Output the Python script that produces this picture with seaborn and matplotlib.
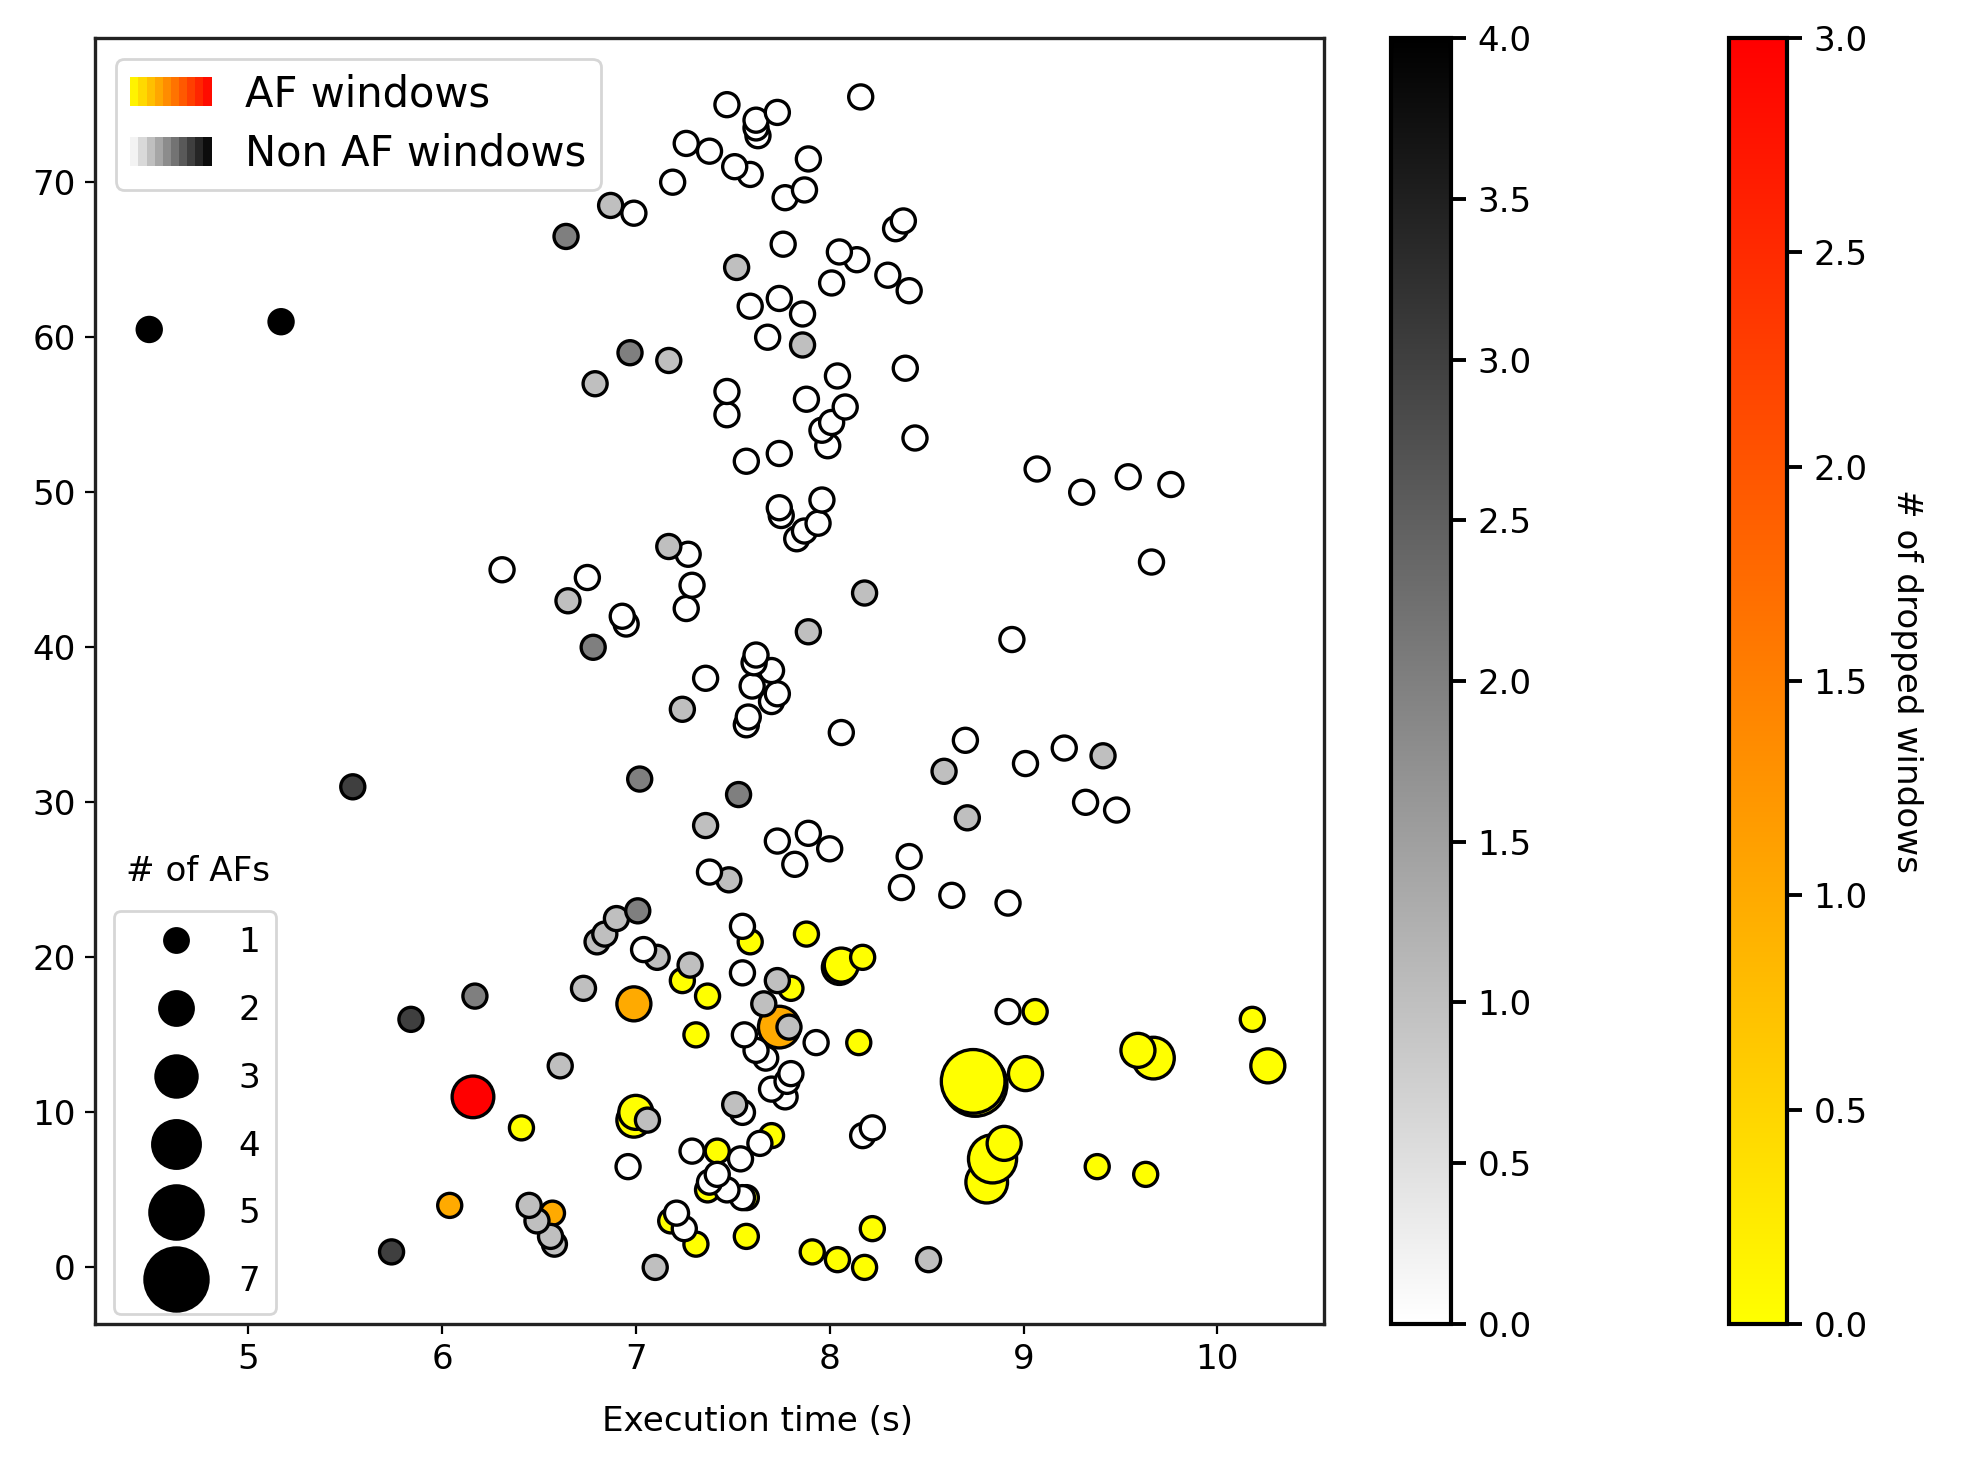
import numpy as np
import pandas as pd
import matplotlib
matplotlib.use("Agg")
import matplotlib.pyplot as plt
import seaborn as sns
from matplotlib.legend_handler import HandlerBase
from matplotlib.patches import Rectangle
from matplotlib.lines import Line2D
from matplotlib.colors import Normalize
from matplotlib.cm import ScalarMappable

# ---- data ----
# Non AF windows: execution time (s), y position, # of dropped windows
non_af_time = [
    7.10, 8.51, 5.74, 6.58, 6.56, 7.25, 6.49, 7.21, 6.45, 7.55,
    7.47, 7.38, 7.42, 6.96, 7.54, 7.29, 7.64, 8.17, 8.22, 7.06,
    7.55, 7.51, 7.77, 7.70, 7.78, 7.80, 6.61, 7.67, 7.62, 7.93,
    7.56, 7.79, 5.84, 8.92, 7.66, 6.17, 6.73, 7.73, 7.55, 7.28,
    7.11, 7.04, 6.80, 6.84, 7.55, 6.90, 7.01, 8.92, 8.63, 8.37,
    7.48, 7.38, 7.82, 8.41, 8.00, 7.73, 7.89, 7.36, 8.71, 9.48,
    9.32, 7.53, 5.54, 7.02, 8.59, 9.01, 9.41, 9.21, 8.70, 8.06,
    7.57, 7.58, 7.24, 7.70, 7.73, 7.60, 7.36, 7.70, 7.61, 7.62,
    6.78, 8.94, 7.89, 6.95, 6.93, 7.26, 6.65, 8.18, 7.29, 6.75,
    6.31, 9.66, 7.27, 7.17, 7.83, 7.87, 7.94, 7.75, 7.74, 7.96,
    9.30, 9.76, 9.54, 9.07, 7.57, 7.74, 7.99, 8.44, 7.96, 8.01,
    7.47, 8.08, 7.88, 7.47, 6.79, 8.04, 8.39, 7.17, 6.97, 7.86,
    7.68, 4.49, 5.17, 7.86, 7.59, 7.74, 8.41, 8.01, 8.30, 7.52,
    8.14, 8.05, 7.76, 6.64, 8.34, 8.38, 6.99, 6.87, 7.77, 7.87,
    7.19, 7.59, 7.51, 7.89, 7.38, 7.26, 7.63, 7.62, 7.62, 7.73,
    7.47, 8.16,
]
non_af_y = [
    0.0, 0.5, 1.0, 1.5, 2.0, 2.5, 3.0, 3.5, 4.0, 4.5,
    5.0, 5.5, 6.0, 6.5, 7.0, 7.5, 8.0, 8.5, 9.0, 9.5,
    10.0, 10.5, 11.0, 11.5, 12.0, 12.5, 13.0, 13.5, 14.0, 14.5,
    15.0, 15.5, 16.0, 16.5, 17.0, 17.5, 18.0, 18.5, 19.0, 19.5,
    20.0, 20.5, 21.0, 21.5, 22.0, 22.5, 23.0, 23.5, 24.0, 24.5,
    25.0, 25.5, 26.0, 26.5, 27.0, 27.5, 28.0, 28.5, 29.0, 29.5,
    30.0, 30.5, 31.0, 31.5, 32.0, 32.5, 33.0, 33.5, 34.0, 34.5,
    35.0, 35.5, 36.0, 36.5, 37.0, 37.5, 38.0, 38.5, 39.0, 39.5,
    40.0, 40.5, 41.0, 41.5, 42.0, 42.5, 43.0, 43.5, 44.0, 44.5,
    45.0, 45.5, 46.0, 46.5, 47.0, 47.5, 48.0, 48.5, 49.0, 49.5,
    50.0, 50.5, 51.0, 51.5, 52.0, 52.5, 53.0, 53.5, 54.0, 54.5,
    55.0, 55.5, 56.0, 56.5, 57.0, 57.5, 58.0, 58.5, 59.0, 59.5,
    60.0, 60.5, 61.0, 61.5, 62.0, 62.5, 63.0, 63.5, 64.0, 64.5,
    65.0, 65.5, 66.0, 66.5, 67.0, 67.5, 68.0, 68.5, 69.0, 69.5,
    70.0, 70.5, 71.0, 71.5, 72.0, 72.5, 73.0, 73.5, 74.0, 74.5,
    75.0, 75.5,
]
non_af_dropped = [
    1, 1, 3, 1, 1, 0, 1, 0, 1, 0,
    0, 0, 0, 0, 0, 0, 0, 0, 0, 1,
    0, 1, 0, 0, 0, 0, 1, 0, 0, 0,
    0, 1, 3, 0, 1, 2, 1, 1, 0, 1,
    1, 0, 1, 1, 0, 1, 2, 0, 0, 0,
    1, 0, 0, 0, 0, 0, 0, 1, 1, 0,
    0, 2, 3, 2, 1, 0, 1, 0, 0, 0,
    0, 0, 1, 0, 0, 0, 0, 0, 0, 0,
    2, 0, 1, 0, 0, 0, 1, 1, 0, 0,
    0, 0, 0, 1, 0, 0, 0, 0, 0, 0,
    0, 0, 0, 0, 0, 0, 0, 0, 0, 0,
    0, 0, 0, 0, 1, 0, 0, 1, 2, 1,
    0, 4, 4, 0, 0, 0, 0, 0, 0, 1,
    0, 0, 0, 2, 0, 0, 0, 1, 0, 0,
    0, 0, 0, 0, 0, 0, 0, 0, 0, 0,
    0, 0,
]

# AF windows: execution time (s), y position, # of dropped windows, # of AFs
af_time = [8.18, 8.04, 7.91, 7.31, 7.57, 8.22, 7.18, 6.57, 6.04, 7.57,
           7.37, 8.81, 9.63, 9.38, 8.84, 7.42, 8.90, 7.70, 6.41, 6.99,
           7.00, 6.16, 8.75, 8.74, 9.01, 10.26, 9.67, 9.59, 8.15, 7.31,
           7.74, 10.18, 9.06, 6.99, 7.37, 7.80, 7.24, 8.05, 8.06, 8.17,
           7.59, 7.88]
af_y = [0.0, 0.5, 1.0, 1.5, 2.0, 2.5, 3.0, 3.5, 4.0, 4.5,
        5.0, 5.5, 6.0, 6.5, 7.0, 7.5, 8.0, 8.5, 9.0, 9.5,
        10.0, 11.0, 11.8, 12.0, 12.5, 13.0, 13.5, 14.0, 14.5, 15.0,
        15.5, 16.0, 16.5, 17.0, 17.5, 18.0, 18.5, 19.35, 19.5, 20.0,
        21.0, 21.5]
af_dropped = [0, 0, 0, 0, 0, 0, 0, 1, 1, 0,
              0, 0, 0, 0, 0, 0, 0, 0, 0, 0,
              0, 3, 0, 0, 0, 0, 0, 0, 0, 0,
              1, 0, 0, 1, 0, 0, 0, 0, 0, 0,
              0, 0]
af_count = [1, 1, 1, 1, 1, 1, 1, 1, 1, 1,
            1, 3, 1, 1, 4, 1, 2, 1, 1, 2,
            2, 3, 7, 7, 2, 2, 3, 2, 1, 1,
            3, 1, 1, 2, 1, 1, 1, 2, 2, 1,
            1, 1]

legend_counts = [1, 2, 3, 4, 5, 7]
gray_ticks = [0.0, 0.5, 1.0, 1.5, 2.0, 2.5, 3.0, 3.5, 4.0]
af_ticks = [0.0, 0.5, 1.0, 1.5, 2.0, 2.5, 3.0]

non_af = pd.DataFrame({"time": non_af_time, "y": non_af_y, "dropped": non_af_dropped})
af = pd.DataFrame({"time": af_time, "y": af_y, "dropped": af_dropped, "n_afs": af_count})

# ---- styling ----
sns.set_style("ticks")
plt.rcParams["font.family"] = ["DejaVu Sans"]
FS = 12.3
plt.rcParams.update({
    "xtick.labelsize": FS, "ytick.labelsize": FS,
    "text.color": "black", "axes.labelcolor": "black",
    "xtick.color": "black", "ytick.color": "black",
})

GRAY_CMAP = "binary"
AF_CMAP = "autumn_r"
AREA_PER_AF = 75

fig = plt.figure(figsize=(9.85, 7.31), dpi=200)
ax = fig.add_axes([0.0482, 0.0944, 0.6239, 0.8796])

sns.scatterplot(data=af, x="time", y="y", hue="dropped", palette=AF_CMAP, hue_norm=(0, 3),
                size="n_afs", sizes=(AREA_PER_AF, 7 * AREA_PER_AF), size_norm=(1, 7),
                edgecolor="black", linewidth=1.2, legend=False, ax=ax, zorder=2)
sns.scatterplot(data=non_af, x="time", y="y", hue="dropped", palette=GRAY_CMAP, hue_norm=(0, 4),
                s=AREA_PER_AF, edgecolor="black", linewidth=1.2, legend=False, ax=ax, zorder=3)

ax.set_xlim(4.21, 10.55)
ax.set_ylim(-3.65, 79.3)
ax.set_xticks([5, 6, 7, 8, 9, 10])
ax.set_yticks([0, 10, 20, 30, 40, 50, 60, 70])
ax.set_xlabel("Execution time (s)", fontsize=FS)
ax.xaxis.set_label_coords(0.539, -0.063)
ax.set_ylabel("")
for sp in ax.spines.values():
    sp.set_linewidth(1.2)
    sp.set_color("#222222")


# legend handle drawn as a row of colour stripes
class HandlerColormap(HandlerBase):
    def __init__(self, cmap, num_stripes=10, **kw):
        HandlerBase.__init__(self, **kw)
        self.cmap = plt.get_cmap(cmap)
        self.num_stripes = num_stripes

    def create_artists(self, legend, orig_handle, xdescent, ydescent,
                       width, height, fontsize, trans):
        stripes = []
        w = width / self.num_stripes
        for i in range(self.num_stripes):
            r = Rectangle([xdescent + i * w, ydescent], w, height,
                          fc=self.cmap((2 * i + 1) / (2 * self.num_stripes)),
                          ec="none", transform=trans)
            stripes.append(r)
        return stripes


h_af = Rectangle((0, 0), 1, 1)
h_non = Rectangle((0, 0), 1, 1)
leg1 = ax.legend([h_af, h_non], ["AF windows", "Non AF windows"], loc="upper left",
                 handler_map={h_af: HandlerColormap(AF_CMAP), h_non: HandlerColormap(GRAY_CMAP)},
                 fontsize=15, handlelength=1.95, borderaxespad=0.5,
                 labelspacing=0.42, borderpad=0.35)
ax.add_artist(leg1)

size_handles = [Line2D([], [], ls="", marker="o", markersize=np.sqrt(AREA_PER_AF * n),
                       markerfacecolor="black", markeredgecolor="black") for n in legend_counts]
leg2 = ax.legend(size_handles, [str(n) for n in legend_counts], loc="lower left",
                 bbox_to_anchor=(0.0155, 0.008), borderaxespad=0, fontsize=FS,
                 labelspacing=1.02, handlelength=2.7, handletextpad=0.5, borderpad=0.45)
ax.text(0.025, 0.352, "# of AFs", transform=ax.transAxes, fontsize=FS, ha="left", va="center")

# ---- colorbars ----
cax1 = fig.add_axes([0.706, 0.0944, 0.0305, 0.8796])
cb1 = fig.colorbar(ScalarMappable(norm=Normalize(0, 4), cmap=GRAY_CMAP), cax=cax1, ticks=gray_ticks)
cax2 = fig.add_axes([0.8777, 0.0944, 0.0294, 0.8796])
cb2 = fig.colorbar(ScalarMappable(norm=Normalize(0, 3), cmap=AF_CMAP), cax=cax2, ticks=af_ticks)
cb2.set_label("# of dropped windows", rotation=270, fontsize=FS, labelpad=20)
for cb, ticks in [(cb1, gray_ticks), (cb2, af_ticks)]:
    cb.ax.set_yticklabels([f"{t:.1f}" for t in ticks])
    cb.ax.tick_params(length=5.5, width=1.4, labelsize=FS, pad=4, colors="black")
    cb.outline.set_linewidth(1.5)
    cb.outline.set_edgecolor("black")

fig.savefig("out.png", dpi=200)
